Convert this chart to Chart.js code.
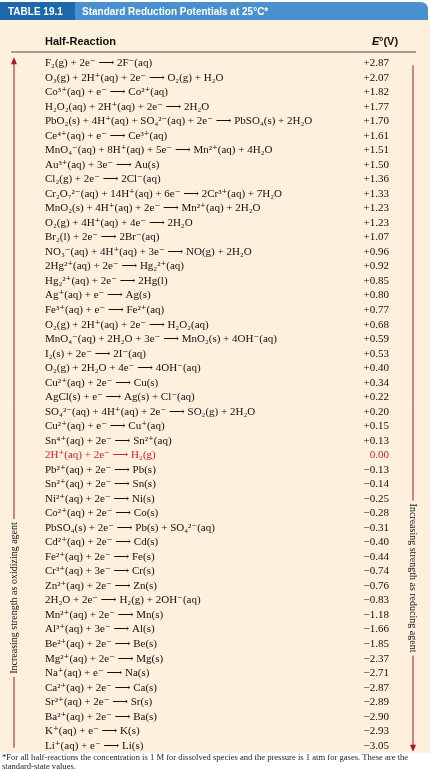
<!DOCTYPE html>
<html>
<head>
<meta charset="utf-8">
<script src="https://cdn.jsdelivr.net/npm/chart.js@4"></script>
<style>
  html, body { margin: 0; padding: 0; background: #fff; }
  #wrap { width: 430px; height: 771px; position: relative; }
</style>
</head>
<body>
<div id="wrap"><canvas id="potChart"></canvas></div>
<script>
// half-reactions, strongest oxidizing agent first
const reactions = [
  'F₂(g) + 2e⁻ ⟶ 2F⁻(aq)',
  'O₃(g) + 2H⁺(aq) + 2e⁻ ⟶ O₂(g) + H₂O',
  'Co³⁺(aq) + e⁻ ⟶ Co²⁺(aq)',
  'H₂O₂(aq) + 2H⁺(aq) + 2e⁻ ⟶ 2H₂O',
  'PbO₂(s) + 4H⁺(aq) + SO₄²⁻(aq) + 2e⁻ ⟶ PbSO₄(s) + 2H₂O',
  'Ce⁴⁺(aq) + e⁻ ⟶ Ce³⁺(aq)',
  'MnO₄⁻(aq) + 8H⁺(aq) + 5e⁻ ⟶ Mn²⁺(aq) + 4H₂O',
  'Au³⁺(aq) + 3e⁻ ⟶ Au(s)',
  'Cl₂(g) + 2e⁻ ⟶ 2Cl⁻(aq)',
  'Cr₂O₇²⁻(aq) + 14H⁺(aq) + 6e⁻ ⟶ 2Cr³⁺(aq) + 7H₂O',
  'MnO₂(s) + 4H⁺(aq) + 2e⁻ ⟶ Mn²⁺(aq) + 2H₂O',
  'O₂(g) + 4H⁺(aq) + 4e⁻ ⟶ 2H₂O',
  'Br₂(l) + 2e⁻ ⟶ 2Br⁻(aq)',
  'NO₃⁻(aq) + 4H⁺(aq) + 3e⁻ ⟶ NO(g) + 2H₂O',
  '2Hg²⁺(aq) + 2e⁻ ⟶ Hg₂²⁺(aq)',
  'Hg₂²⁺(aq) + 2e⁻ ⟶ 2Hg(l)',
  'Ag⁺(aq) + e⁻ ⟶ Ag(s)',
  'Fe³⁺(aq) + e⁻ ⟶ Fe²⁺(aq)',
  'O₂(g) + 2H⁺(aq) + 2e⁻ ⟶ H₂O₂(aq)',
  'MnO₄⁻(aq) + 2H₂O + 3e⁻ ⟶ MnO₂(s) + 4OH⁻(aq)',
  'I₂(s) + 2e⁻ ⟶ 2I⁻(aq)',
  'O₂(g) + 2H₂O + 4e⁻ ⟶ 4OH⁻(aq)',
  'Cu²⁺(aq) + 2e⁻ ⟶ Cu(s)',
  'AgCl(s) + e⁻ ⟶ Ag(s) + Cl⁻(aq)',
  'SO₄²⁻(aq) + 4H⁺(aq) + 2e⁻ ⟶ SO₂(g) + 2H₂O',
  'Cu²⁺(aq) + e⁻ ⟶ Cu⁺(aq)',
  'Sn⁴⁺(aq) + 2e⁻ ⟶ Sn²⁺(aq)',
  '2H⁺(aq) + 2e⁻ ⟶ H₂(g)',
  'Pb²⁺(aq) + 2e⁻ ⟶ Pb(s)',
  'Sn²⁺(aq) + 2e⁻ ⟶ Sn(s)',
  'Ni²⁺(aq) + 2e⁻ ⟶ Ni(s)',
  'Co²⁺(aq) + 2e⁻ ⟶ Co(s)',
  'PbSO₄(s) + 2e⁻ ⟶ Pb(s) + SO₄²⁻(aq)',
  'Cd²⁺(aq) + 2e⁻ ⟶ Cd(s)',
  'Fe²⁺(aq) + 2e⁻ ⟶ Fe(s)',
  'Cr³⁺(aq) + 3e⁻ ⟶ Cr(s)',
  'Zn²⁺(aq) + 2e⁻ ⟶ Zn(s)',
  '2H₂O + 2e⁻ ⟶ H₂(g) + 2OH⁻(aq)',
  'Mn²⁺(aq) + 2e⁻ ⟶ Mn(s)',
  'Al³⁺(aq) + 3e⁻ ⟶ Al(s)',
  'Be²⁺(aq) + 2e⁻ ⟶ Be(s)',
  'Mg²⁺(aq) + 2e⁻ ⟶ Mg(s)',
  'Na⁺(aq) + e⁻ ⟶ Na(s)',
  'Ca²⁺(aq) + 2e⁻ ⟶ Ca(s)',
  'Sr²⁺(aq) + 2e⁻ ⟶ Sr(s)',
  'Ba²⁺(aq) + 2e⁻ ⟶ Ba(s)',
  'K⁺(aq) + e⁻ ⟶ K(s)',
  'Li⁺(aq) + e⁻ ⟶ Li(s)'
];
const potentials = [
  2.87, 2.07, 1.82, 1.77, 1.70, 1.61, 1.51, 1.50, 1.36, 1.33, 1.23, 1.23,
  1.07, 0.96, 0.92, 0.85, 0.80, 0.77, 0.68, 0.59, 0.53, 0.40, 0.34, 0.22,
  0.20, 0.15, 0.13, 0.00, -0.13, -0.14, -0.25, -0.28, -0.31, -0.40, -0.44,
  -0.74, -0.76, -0.83, -1.18, -1.66, -1.85, -2.37, -2.71, -2.87, -2.89,
  -2.90, -2.93, -3.05
];
const highlightRow = '2H⁺(aq) + 2e⁻ ⟶ H₂(g)';

const BEIGE = '#fdf0dc';
const DARKRED = '#a3162b';
const SERIF = '"Liberation Serif", "DejaVu Serif", serif';
const SANS = '"Liberation Sans", Arial, sans-serif';

function fmt(v) {
  if (v === 0) return '0.00';
  return (v > 0 ? '+' : '−') + Math.abs(v).toFixed(2);
}

// ************** Table frame drawn behind the rows
const framePlugin = {
  id: 'frame',
  beforeDraw(chart) {
    const c = chart.ctx;
    c.save();
    c.fillStyle = '#fff';
    c.fillRect(0, 0, 430, 771);
    c.fillStyle = BEIGE;
    c.fillRect(0, 20, 430, 733);
    // title bar
    c.fillStyle = '#4a90cc';
    c.beginPath();
    c.moveTo(0, 2); c.lineTo(420, 2);
    c.quadraticCurveTo(428, 2, 428, 10);
    c.lineTo(428, 20); c.lineTo(0, 20); c.closePath();
    c.fill();
    c.fillStyle = '#1d68ab';
    c.fillRect(0, 2, 75, 18);
    c.fillStyle = '#fff';
    c.font = 'bold 10px ' + SANS;
    c.textBaseline = 'middle';
    c.fillText('TABLE 19.1', 8, 12);
    c.fillText('Standard Reduction Potentials at 25°C*', 82, 12);
    // column header
    c.fillStyle = '#111';
    c.font = 'bold 11px ' + SANS;
    c.fillText('Half-Reaction', 45, 42);
    c.font = 'bold italic 11px ' + SANS;
    c.fillText('E', 372, 42);
    c.font = 'bold 11px ' + SANS;
    c.fillText('°(V)', 379, 42);
    c.strokeStyle = '#222';
    c.lineWidth = 0.8;
    c.beginPath(); c.moveTo(11, 52); c.lineTo(416, 52); c.stroke();
    // footnote
    c.fillStyle = '#222';
    c.font = '8.6px ' + SERIF;
    c.fillText('*For all half-reactions the concentration is 1 M for dissolved species and the pressure is 1 atm for gases. These are the', 2, 758);
    c.fillText('standard-state values.', 2, 767);
    c.restore();
  },
  afterDraw(chart) {
    const c = chart.ctx;
    const y = chart.scales.y;
    const top = y.getPixelForValue(0);
    const bot = y.getPixelForValue(reactions.length - 1);
    c.save();
    // rows
    c.textBaseline = 'middle';
    c.font = '11px ' + SERIF;
    reactions.forEach((r, i) => {
      const py = y.getPixelForValue(i);
      c.fillStyle = r === highlightRow ? '#d0202e' : '#111';
      c.textAlign = 'left';
      c.fillText(r, 45, py);
      c.textAlign = 'right';
      c.fillText(fmt(potentials[i]), 389, py);
    });
    // arrows
    c.strokeStyle = DARKRED;
    c.fillStyle = DARKRED;
    c.lineWidth = 1;
    c.beginPath(); c.moveTo(14, top - 2); c.lineTo(14, bot + 2); c.stroke();
    c.beginPath(); c.moveTo(14, top - 6); c.lineTo(11, top + 1); c.lineTo(17, top + 1); c.fill();
    c.beginPath(); c.moveTo(413, top + 2); c.lineTo(413, bot + 2); c.stroke();
    c.beginPath(); c.moveTo(413, bot + 6); c.lineTo(410, bot - 1); c.lineTo(416, bot - 1); c.fill();
    // rotated captions
    c.font = '10px ' + SERIF;
    c.textAlign = 'center';
    const cap1 = 'Increasing strength as oxidizing agent';
    c.save();
    c.translate(14, 598); c.rotate(-Math.PI / 2);
    let w = c.measureText(cap1).width;
    c.fillStyle = BEIGE; c.fillRect(-w / 2 - 3, -6, w + 6, 12);
    c.fillStyle = '#111'; c.fillText(cap1, 0, 0);
    c.restore();
    const cap2 = 'Increasing strength as reducing agent';
    c.save();
    c.translate(413, 578); c.rotate(Math.PI / 2);
    w = c.measureText(cap2).width;
    c.fillStyle = BEIGE; c.fillRect(-w / 2 - 3, -6, w + 6, 12);
    c.fillStyle = '#111'; c.fillText(cap2, 0, 0);
    c.restore();
    c.restore();
  }
};

const ctx = document.getElementById('potChart').getContext('2d');
new Chart(ctx, {
  type: 'bar',
  data: {
    labels: reactions,
    datasets: [{
      label: 'E°(V)',
      data: potentials,
      backgroundColor: 'rgba(0,0,0,0)',
      borderWidth: 0
    }]
  },
  options: {
    indexAxis: 'y',
    responsive: true,
    maintainAspectRatio: false,
    animation: false,
    layout: { padding: { top: 56, bottom: 18, left: 40, right: 40 } },
    plugins: { legend: { display: false }, tooltip: { enabled: false } },
    scales: {
      x: { display: false, min: -3.5, max: 3.5 },
      y: { display: false }
    }
  },
  plugins: [framePlugin]
});
</script>
</body>
</html>
